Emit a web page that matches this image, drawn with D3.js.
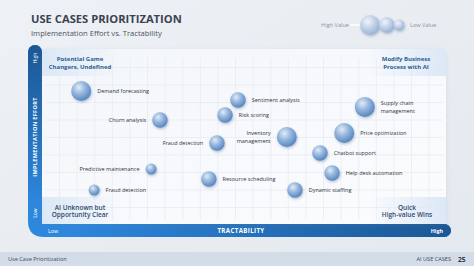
<!DOCTYPE html>
<html>
<head>
<meta charset="utf-8">
<script src="https://cdn.jsdelivr.net/npm/d3@7"></script>
<style>
  body { margin: 0; background: #e9edf2; }
  svg { display: block; font-family: "Open Sans", sans-serif; }
</style>
</head>
<body>
<div id="chart"></div>
<script>
// use cases (x = tractability, y = implementation effort, 0..10)
var names = [
  "Demand forecasting", "Churn analysis", "Sentiment analysis", "Risk scoring",
  "Fraud detection", "Inventory management", "Supply chain management",
  "Price optimization", "Chatbot support", "Help desk automation",
  "Dynamic staffing", "Resource scheduling", "Predictive maintenance", "Fraud detection"
];
var tractability = [0.97, 2.92, 4.85, 4.53, 4.33, 6.06, 7.99, 7.48, 6.88, 7.18, 6.26, 4.13, 2.70, 1.29];
var effort       = [7.6, 5.94, 7.09, 6.23, 4.63, 4.97, 6.69, 5.2, 4.06, 2.91, 1.94, 2.57, 3.14, 1.94];
// 3 = high value, 2 = medium, 1 = low
var valueLevel   = [3, 2, 2, 2, 2, 3, 3, 3, 2, 2, 2, 2, 1, 1];

var quadrantLabels = [
  ["Potential Game", "Changers, Undefined"],
  ["Modify Business", "Process with AI"],
  ["AI Unknown but", "Opportunity Clear"],
  ["Quick", "High-value Wins"]
];
var legendLevels = [3, 2, 1];
var legendText = ["High Value", "Low Value"];

var W = 474, H = 266;
var panel = {left: 42, right: 446, top: 49, bottom: 224};

var x = d3.scaleLinear().domain([0, 10]).range([panel.left, panel.right]);
var y = d3.scaleLinear().domain([0, 10]).range([panel.bottom, panel.top]);
var r = d3.scaleLinear().domain([1, 3]).range([5.5, 10]);
// grid spacing scales
var gx = d3.scaleLinear().domain([0, 23]).range([41.4, 446.2]);
var gy = d3.scaleLinear().domain([0, 10]).range([224.5, 49.5]);

var svg = d3.select("#chart").append("svg")
    .attr("width", W)
    .attr("height", H);

var defs = svg.append("defs");

var bg = defs.append("linearGradient").attr("id", "bg")
    .attr("x1", 0).attr("y1", 0).attr("x2", 1).attr("y2", 1);
bg.append("stop").attr("offset", 0).attr("stop-color", "#eef1f5");
bg.append("stop").attr("offset", 1).attr("stop-color", "#e4e9ef");

var ball = defs.append("radialGradient").attr("id", "ball")
    .attr("cx", "38%").attr("cy", "32%").attr("r", "70%");
ball.append("stop").attr("offset", 0).attr("stop-color", "#e2ebf6");
ball.append("stop").attr("offset", 0.45).attr("stop-color", "#98b8de");
ball.append("stop").attr("offset", 1).attr("stop-color", "#5485c0");

var lball = defs.append("radialGradient").attr("id", "lball")
    .attr("cx", "38%").attr("cy", "32%").attr("r", "70%");
lball.append("stop").attr("offset", 0).attr("stop-color", "#f0f4fa");
lball.append("stop").attr("offset", 0.5).attr("stop-color", "#c3d3e8");
lball.append("stop").attr("offset", 1).attr("stop-color", "#98b2d3");

var vbar = defs.append("linearGradient").attr("id", "vbar")
    .attr("x1", 0).attr("y1", 0).attr("x2", 0).attr("y2", 1);
vbar.append("stop").attr("offset", 0).attr("stop-color", "#1c5795").attr("stop-opacity", 1);
vbar.append("stop").attr("offset", 1).attr("stop-color", "#1c5795").attr("stop-opacity", 0);

var hbar = defs.append("linearGradient").attr("id", "hbar")
    .attr("x1", 0).attr("y1", 0).attr("x2", 1).attr("y2", 0);
hbar.append("stop").attr("offset", 0).attr("stop-color", "#1c5795").attr("stop-opacity", 0);
hbar.append("stop").attr("offset", 1).attr("stop-color", "#1c5795").attr("stop-opacity", 1);

var panelGrad = defs.append("linearGradient").attr("id", "panelGrad")
    .attr("x1", 0).attr("y1", 0).attr("x2", 1).attr("y2", 1);
panelGrad.append("stop").attr("offset", 0).attr("stop-color", "#f3f6fa");
panelGrad.append("stop").attr("offset", 1).attr("stop-color", "#fbfcfe");

// quadrant label boxes fade away from their corner
[["qL", 0, 1], ["qR", 1, 0]].forEach(function(g) {
    var lg = defs.append("linearGradient").attr("id", g[0])
        .attr("x1", g[1]).attr("y1", 0).attr("x2", g[2]).attr("y2", 0);
    lg.append("stop").attr("offset", 0).attr("stop-color", "#dbe8f6").attr("stop-opacity", 1);
    lg.append("stop").attr("offset", 1).attr("stop-color", "#dbe8f6").attr("stop-opacity", 0);
});

var shadow = defs.append("filter").attr("id", "shadow")
    .attr("x", "-50%").attr("y", "-50%").attr("width", "200%").attr("height", "200%");
shadow.append("feDropShadow").attr("dx", 0.8).attr("dy", 1.5).attr("stdDeviation", 1.3)
    .attr("flood-color", "#284a72").attr("flood-opacity", 0.3);

var pshadow = defs.append("filter").attr("id", "pshadow")
    .attr("x", "-10%").attr("y", "-10%").attr("width", "120%").attr("height", "120%");
pshadow.append("feDropShadow").attr("dx", 0).attr("dy", 1).attr("stdDeviation", 2)
    .attr("flood-color", "#6a7f99").attr("flood-opacity", 0.18);

// background + footer
svg.append("rect").attr("width", W).attr("height", H).attr("fill", "url(#bg)");
svg.append("rect").attr("y", 252).attr("width", W).attr("height", 14).attr("fill", "#d3dce7");

// title
svg.append("text").attr("x", 31).attr("y", 23)
    .attr("font-size", 11.2).attr("font-weight", 700).attr("fill", "#3b4350")
    .text("USE CASES PRIORITIZATION");
svg.append("text").attr("x", 31).attr("y", 36)
    .attr("font-size", 7.6).attr("fill", "#4a5361")
    .text("Implementation Effort vs. Tractability");

// legend
var lg = svg.append("g");
lg.append("line").attr("x1", 350).attr("x2", 405).attr("y1", 25).attr("y2", 25)
    .attr("stroke", "#ffffff").attr("stroke-width", 1.4);
var lx = 370, prev = null;
legendLevels.forEach(function(lv, i) {
    if (prev !== null) lx += r(prev) + r(lv) - 1;
    lg.append("circle").attr("cx", lx).attr("cy", 25).attr("r", r(lv))
        .attr("fill", "url(#lball)").attr("filter", "url(#shadow)");
    prev = lv;
});
lg.append("text").attr("x", 349).attr("y", 27).attr("text-anchor", "end")
    .attr("font-size", 5.6).attr("fill", "#8a93a0").text(legendText[0]);
lg.append("text").attr("x", 410).attr("y", 27)
    .attr("font-size", 5.6).attr("fill", "#8a93a0").text(legendText[1]);

// blue L frame
svg.append("path")
    .attr("d", "M28,52 A7,7 0 0 1 42,52 L42,216 Q42,224 50,224 L444.5,224 A6.5,6.5 0 0 1 444.5,237 L44,237 Q28,237 28,221 Z")
    .attr("fill", "#2d87dd");
svg.append("path")
    .attr("d", "M28,52 A7,7 0 0 1 42,52 L42,205 L28,205 Z")
    .attr("fill", "url(#vbar)");
svg.append("path")
    .attr("d", "M70,224 L444.5,224 A6.5,6.5 0 0 1 444.5,237 L70,237 Z")
    .attr("fill", "url(#hbar)");

// panel
svg.append("path")
    .attr("d", "M42," + panel.top + " L440," + panel.top + " Q446," + panel.top + " 446," + (panel.top + 6) +
        " L446,224 L50,224 Q42,224 42,216 Z")
    .attr("fill", "url(#panelGrad)").attr("filter", "url(#pshadow)");

// grid via axes
var grid = svg.append("g").attr("class", "grid");
grid.append("g")
    .attr("transform", "translate(0," + 220 + ")")
    .call(d3.axisBottom(gx).tickValues(d3.range(1, 23)).tickSize(-162).tickFormat(""));
grid.append("g")
    .attr("transform", "translate(" + 45 + ",0)")
    .call(d3.axisLeft(gy).tickValues(d3.range(1, 10)).tickSize(-398).tickFormat(""));
grid.selectAll(".domain").remove();
grid.selectAll("line").attr("stroke", "#e3e8ef").attr("stroke-width", 0.6);

// quadrant boxes
var qBoxes = [
    {x: 42, y: 49, w: 78, h: 27, grad: "qL"},
    {x: 368, y: 49, w: 78, h: 27, grad: "qR"},
    {x: 42, y: 197, w: 78, h: 27, grad: "qL"},
    {x: 368, y: 197, w: 78, h: 27, grad: "qR"}
];
var qCenters = [80, 406, 80, 407];
qBoxes.forEach(function(b, i) {
    svg.append("rect").attr("x", b.x).attr("y", b.y).attr("width", b.w).attr("height", b.h)
        .attr("fill", "url(#" + b.grad + ")");
    quadrantLabels[i].forEach(function(line, j) {
        svg.append("text").attr("text-anchor", "middle")
            .attr("x", qCenters[i])
            .attr("y", (i < 2 ? 61 : 209.5) + j * 7.6)
            .attr("font-size", i < 2 ? 6 : 6.5).attr("font-weight", i < 2 ? 700 : 600)
            .attr("fill", i < 2 ? "#2c5f95" : "#2f4a70")
            .text(line);
    });
});

// axis labels on the frame
function vlabel(txt, cy, size, bold, spacing) {
    svg.append("text")
        .attr("transform", "translate(37.3," + cy + ") rotate(-90)")
        .attr("text-anchor", "middle").attr("font-size", size)
        .attr("font-weight", bold ? 700 : 400).attr("letter-spacing", spacing || 0)
        .attr("fill", "#ffffff").text(txt);
}
vlabel("High", 58, 5, false);
vlabel("IMPLEMENTATION EFFORT", 137, 5.6, true, 0.3);
vlabel("Low", 213, 5, false);

svg.append("text").attr("x", 48).attr("y", 232.7).attr("font-size", 5.4)
    .attr("fill", "#ffffff").text("Low");
svg.append("text").attr("x", 241).attr("y", 233).attr("text-anchor", "middle")
    .attr("font-size", 6.2).attr("font-weight", 700).attr("letter-spacing", 0.35)
    .attr("fill", "#ffffff").text("TRACTABILITY");
svg.append("text").attr("x", 443).attr("y", 232.7).attr("text-anchor", "end")
    .attr("font-size", 5.4).attr("font-weight", 700)
    .attr("fill", "#ffffff").text("High");

// bubbles
var data = names.map(function(n, i) {
    return {name: n, tx: tractability[i], ef: effort[i], lv: valueLevel[i]};
});
var leftLabel = [1, 4, 5, 12];   // indexes whose label sits on the left
var wrapped = {"Inventory management": ["Inventory", "management"],
               "Supply chain management": ["Supply chain", "management"]};

svg.selectAll(".bubble")
    .data(data)
    .enter().append("circle")
    .attr("class", "bubble")
    .attr("cx", function(d) { return x(d.tx); })
    .attr("cy", function(d) { return y(d.ef); })
    .attr("r", function(d) { return r(d.lv); })
    .attr("fill", "url(#ball)")
    .attr("filter", "url(#shadow)");

// one text per label line
var lines = [];
data.forEach(function(d, i) {
    var left = leftLabel.indexOf(i) >= 0;
    var parts = wrapped[d.name] || [d.name];
    parts.forEach(function(p, j) {
        lines.push({
            text: p,
            left: left,
            lx: x(d.tx) + (left ? -1 : 1) * (r(d.lv) + 6),
            ly: y(d.ef) + 2 + (j - (parts.length - 1) / 2) * 7.5
        });
    });
});

svg.selectAll(".lbl")
    .data(lines)
    .enter().append("text")
    .attr("class", "lbl")
    .attr("x", function(d) { return d.lx; })
    .attr("y", function(d) { return d.ly; })
    .attr("font-size", 5.5)
    .attr("fill", "#2f3540")
    .attr("text-anchor", function(d) { return d.left ? "end" : "start"; })
    .text(function(d) { return d.text; });

// footer
svg.append("text").attr("x", 8).attr("y", 261).attr("font-size", 5.6)
    .attr("fill", "#3c4a5e").text("Use Case Prioritization");
svg.append("text").attr("x", 451).attr("y", 261).attr("text-anchor", "end")
    .attr("font-size", 5.6).attr("fill", "#3c4a5e").text("AI USE CASES");
svg.append("text").attr("x", 458).attr("y", 261.5).attr("font-size", 6.6)
    .attr("font-weight", 700).attr("fill", "#2a3546").text("25");
</script>
</body>
</html>
